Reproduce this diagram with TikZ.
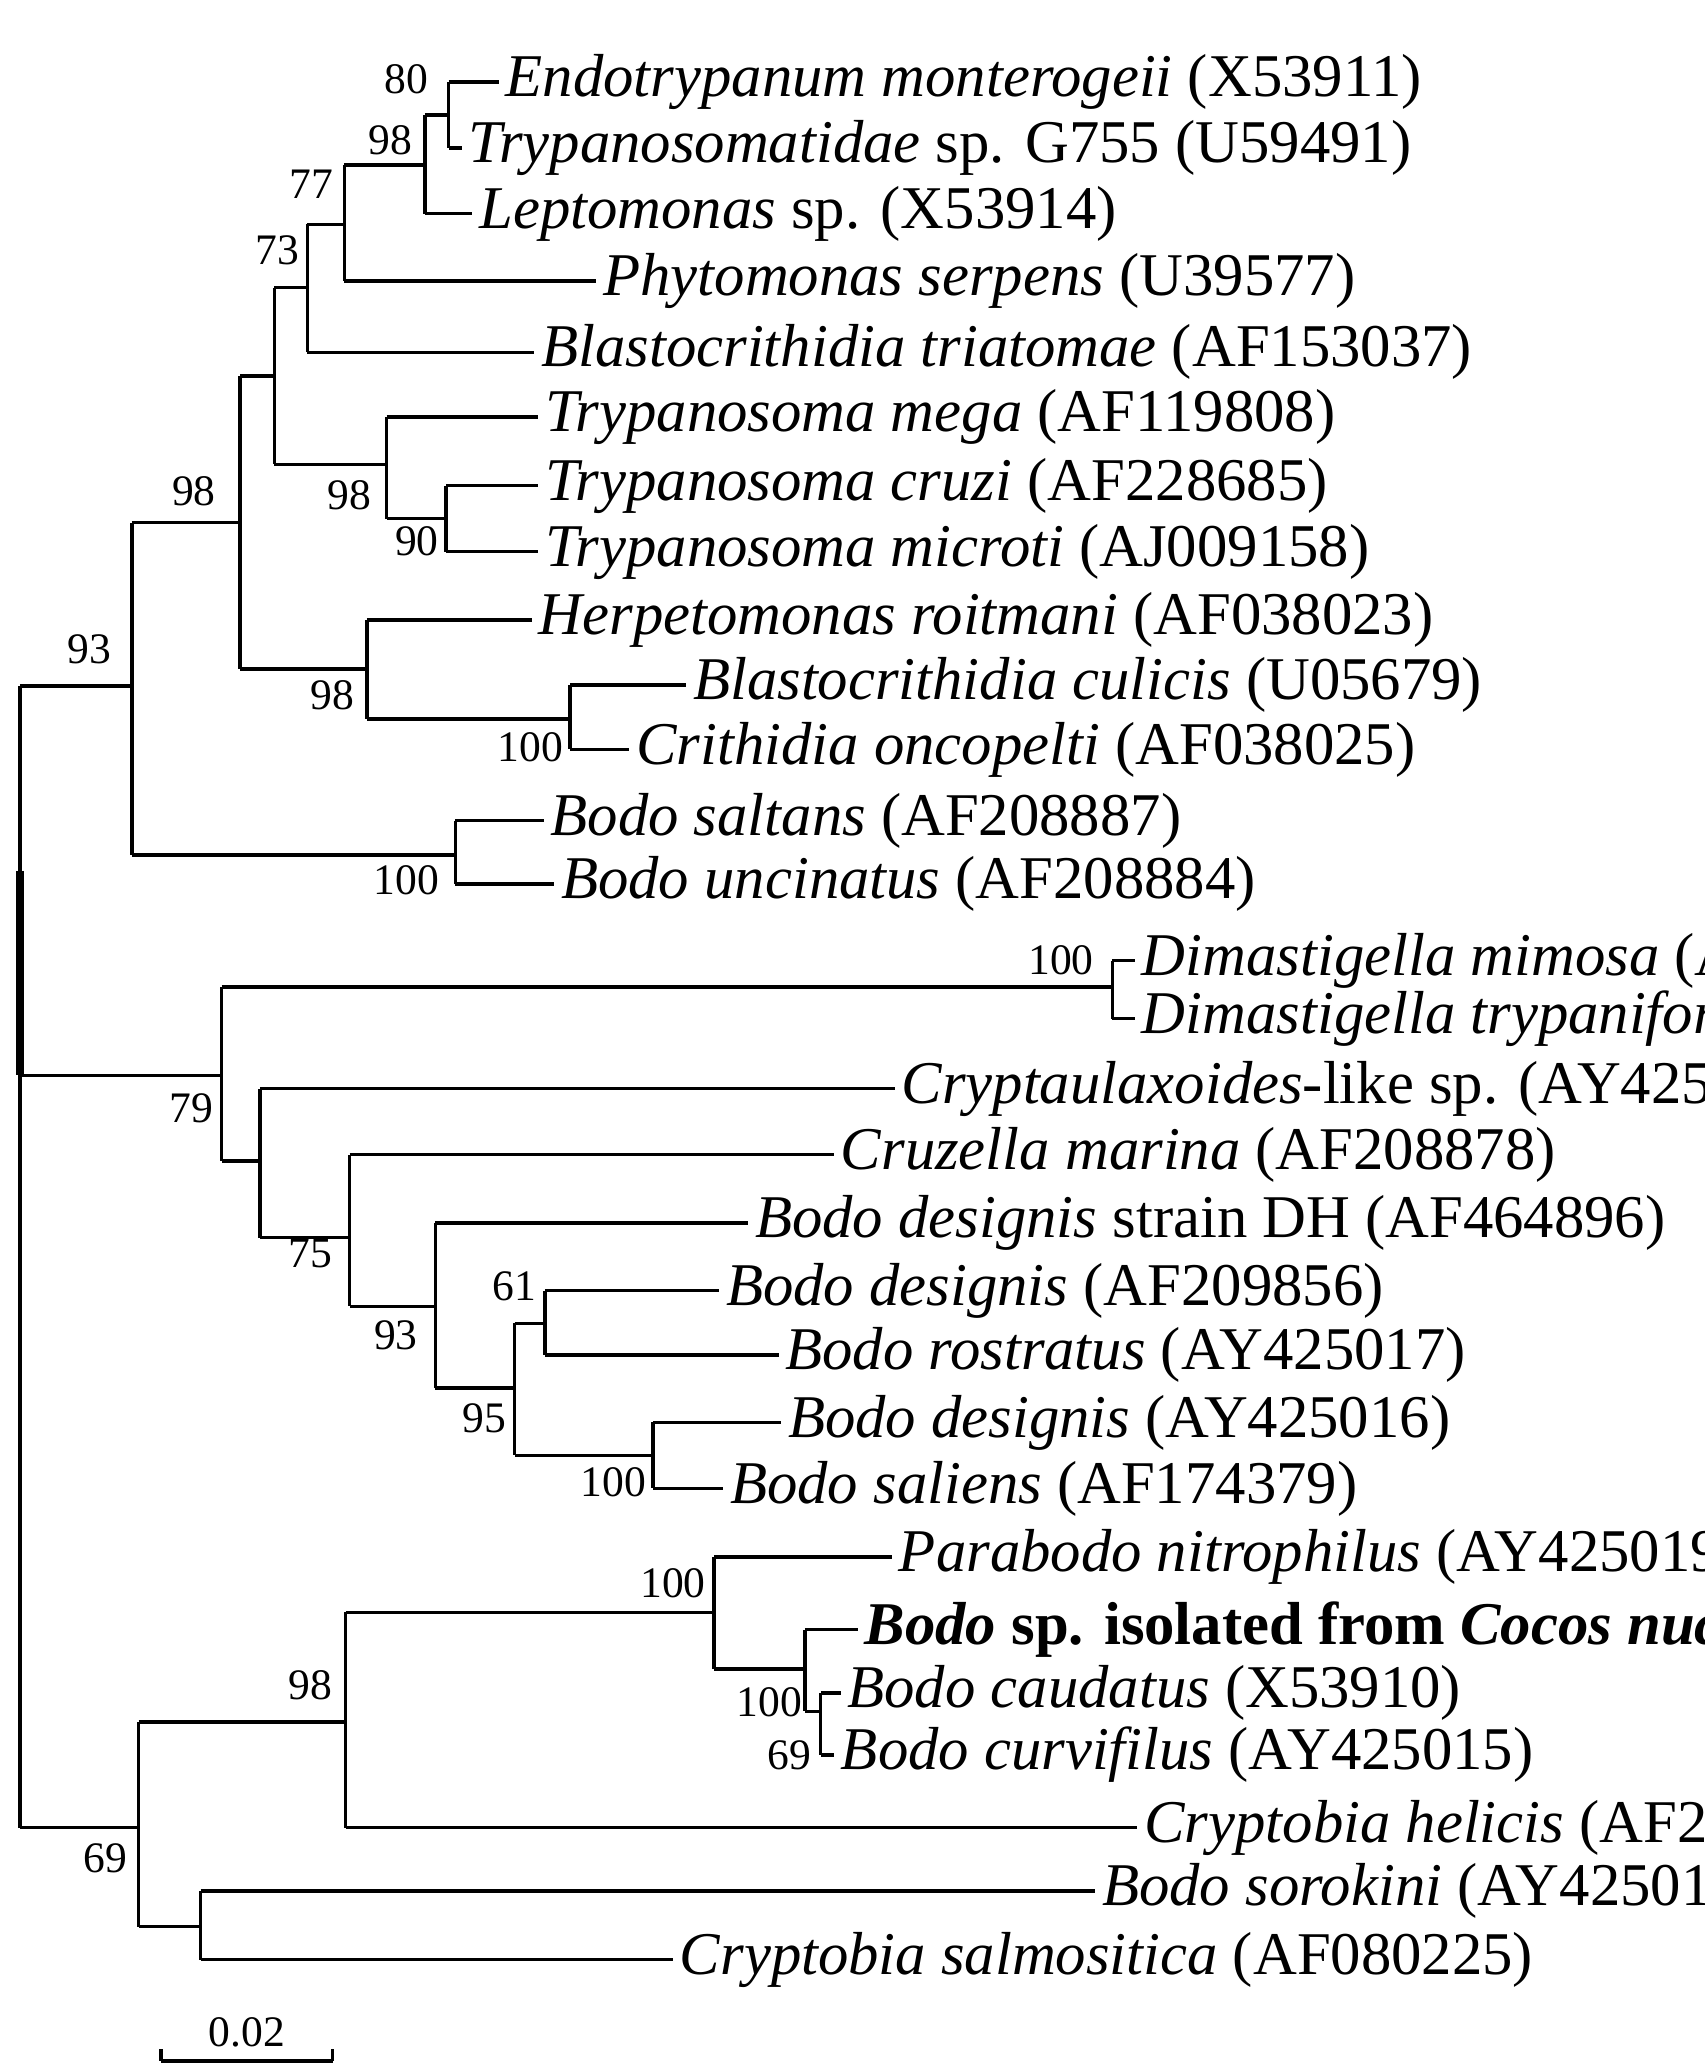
\documentclass[tikz,border=0pt]{standalone}
\usepackage{fontspec}
\setmainfont{Liberation Serif}
\begin{document}
\begin{tikzpicture}[x=0.5pt,y=-0.5pt,
  br/.style={line width=1.3pt},
  lf/.style={anchor=west,inner sep=2pt,font=\fontsize{23}{26}\selectfont},
  bs/.style={inner sep=1pt,font=\fontsize{16.5}{18}\selectfont}]
\useasboundingbox (0,0) rectangle (1292,1568);
\clip (0,0) rectangle (1292,1568);
% clade 1
\draw[br] (340,62)--(340,112);
\draw[br] (340,62)--(378,62) node[lf]{\textit{Endotrypanum monterogeii} (X53911)};
\draw[br] (340,112)--(350,112) node[lf]{\textit{Trypanosomatidae} sp. G755 (U59491)};
\draw[br] (322,87)--(322,162); \draw[br] (322,87)--(340,87);
\draw[br] (322,162)--(358,162) node[lf]{\textit{Leptomonas} sp. (X53914)};
\draw[br] (261,125)--(261,213); \draw[br] (261,125)--(322,125);
\draw[br] (261,213)--(452,213) node[lf]{\textit{Phytomonas serpens} (U39577)};
\draw[br] (233,170)--(233,267); \draw[br] (233,170)--(261,170);
\draw[br] (233,267)--(405,267) node[lf]{\textit{Blastocrithidia triatomae} (AF153037)};
\draw[br] (338,368)--(338,418); \draw[br] (338,393)--(293,393);
\draw[br] (338,368)--(408,368) node[lf]{\textit{Trypanosoma cruzi} (AF228685)};
\draw[br] (338,418)--(408,418) node[lf]{\textit{Trypanosoma microti} (AJ009158)};
\draw[br] (293,316)--(293,393);
\draw[br] (293,316)--(408,316) node[lf]{\textit{Trypanosoma mega} (AF119808)};
\draw[br] (208,218)--(208,352); \draw[br] (208,218)--(233,218); \draw[br] (208,352)--(293,352);
\draw[br] (432,519)--(432,568);
\draw[br] (432,519)--(520,519) node[lf]{\textit{Blastocrithidia culicis} (U05679)};
\draw[br] (432,568)--(477,568) node[lf]{\textit{Crithidia oncopelti} (AF038025)};
\draw[br] (278,470)--(278,545); \draw[br] (278,545)--(432,545);
\draw[br] (278,470)--(403,470) node[lf]{\textit{Herpetomonas roitmani} (AF038023)};
\draw[br] (182,285)--(182,507); \draw[br] (182,285)--(208,285); \draw[br] (182,507)--(278,507);
\draw[br] (345,622)--(345,670); \draw[br] (100,648)--(345,648);
\draw[br] (345,622)--(412,622) node[lf]{\textit{Bodo saltans} (AF208887)};
\draw[br] (345,670)--(420,670) node[lf]{\textit{Bodo uncinatus} (AF208884)};
\draw[br] (100,396)--(100,648); \draw[br] (100,396)--(182,396);
\draw[br] (15,520)--(100,520);
% root
\draw[br] (15,520)--(15,1385);
\draw[line width=3pt] (15,660)--(15,815);
\draw[br] (15,815)--(168,815);
\draw[br] (15,1385)--(105,1385);
% clade 2
\draw[br] (843,728)--(843,772); \draw[br] (168,748)--(843,748);
\draw[br] (843,728)--(860,728) node[lf]{\textit{Dimastigella mimosa} (AF208880)};
\draw[br] (843,772)--(860,772) node[lf]{\textit{Dimastigella trypaniformis} (X76494)};
\draw[br] (168,748)--(168,880); \draw[br] (168,880)--(197,880);
\draw[br] (197,825)--(197,938);
\draw[br] (197,825)--(678,825) node[lf]{\textit{Cryptaulaxoides}-like sp. (AY425020)};
\draw[br] (197,938)--(265,938);
\draw[br] (265,875)--(265,990);
\draw[br] (265,875)--(632,875) node[lf]{\textit{Cruzella marina} (AF208878)};
\draw[br] (265,990)--(330,990);
\draw[br] (330,927)--(330,1052);
\draw[br] (330,927)--(567,927) node[lf]{\textit{Bodo designis} strain DH (AF464896)};
\draw[br] (330,1052)--(390,1052);
\draw[br] (390,1003)--(390,1103); \draw[br] (390,1003)--(413,1003); \draw[br] (390,1103)--(495,1103);
\draw[br] (413,978)--(413,1027);
\draw[br] (413,978)--(545,978) node[lf]{\textit{Bodo designis} (AF209856)};
\draw[br] (413,1027)--(590,1027) node[lf]{\textit{Bodo rostratus} (AY425017)};
\draw[br] (495,1078)--(495,1128);
\draw[br] (495,1078)--(592,1078) node[lf]{\textit{Bodo designis} (AY425016)};
\draw[br] (495,1128)--(548,1128) node[lf]{\textit{Bodo saliens} (AF174379)};
% clade 3
\draw[br] (105,1305)--(105,1460); \draw[br] (105,1305)--(262,1305); \draw[br] (105,1460)--(152,1460);
\draw[br] (262,1222)--(262,1385); \draw[br] (262,1222)--(541,1222);
\draw[br] (262,1385)--(862,1385) node[lf]{\textit{Cryptobia helicis} (AF208881)};
\draw[br] (541,1180)--(541,1265); \draw[br] (541,1265)--(610,1265);
\draw[br] (541,1180)--(676,1180) node[lf]{\textit{Parabodo nitrophilus} (AY425019)};
\draw[br] (610,1235)--(610,1297); \draw[br] (610,1297)--(622,1297);
\draw[br] (610,1235)--(650,1235) node[lf]{\textbf{\textit{Bodo} sp. isolated from \textit{Cocos nucifera}}};
\draw[br] (622,1283)--(622,1330);
\draw[br] (622,1283)--(637,1283) node[lf]{\textit{Bodo caudatus} (X53910)};
\draw[br] (622,1330)--(632,1330) node[lf]{\textit{Bodo curvifilus} (AY425015)};
\draw[br] (152,1433)--(152,1485);
\draw[br] (152,1433)--(830,1433) node[lf]{\textit{Bodo sorokini} (AY425018)};
\draw[br] (152,1485)--(510,1485) node[lf]{\textit{Cryptobia salmositica} (AF080225)};
% bootstraps
\node[bs] (b1) at (308,60) {80};
\node[bs] (b2) at (296,106) {98};
\node[bs] (b3) at (236,140) {77};
\node[bs] (b4) at (210,190) {73};
\node[bs] (b5) at (265,375) {98};
\node[bs] (b6) at (316,410) {90};
\node[bs] (b7) at (147,372) {98};
\node[bs] (b8) at (252,527) {98};
\node[bs] (b9) at (402,566) {100};
\node[bs] (b10) at (68,492) {93};
\node[bs] (b11) at (308,667) {100};
\node[bs] (b12) at (804,728) {100};
\node[bs] (b13) at (145,840) {79};
\node[bs] (b14) at (235,950) {75};
\node[bs] (b15) at (300,1012) {93};
\node[bs] (b16) at (390,975) {61};
\node[bs] (b17) at (367,1075) {95};
\node[bs] (b18) at (465,1123) {100};
\node[bs] (b19) at (510,1200) {100};
\node[bs] (b20) at (583,1290) {100};
\node[bs] (b21) at (598,1330) {69};
\node[bs] (b22) at (235,1277) {98};
\node[bs] (b23) at (80,1408) {69};
% scale bar
\draw[br] (122,1562)--(252,1562); \draw[br] (122,1553)--(122,1562); \draw[br] (252,1553)--(252,1562);
\node[bs] (sc) at (187,1540) {0.02};
\end{tikzpicture}
\end{document}
